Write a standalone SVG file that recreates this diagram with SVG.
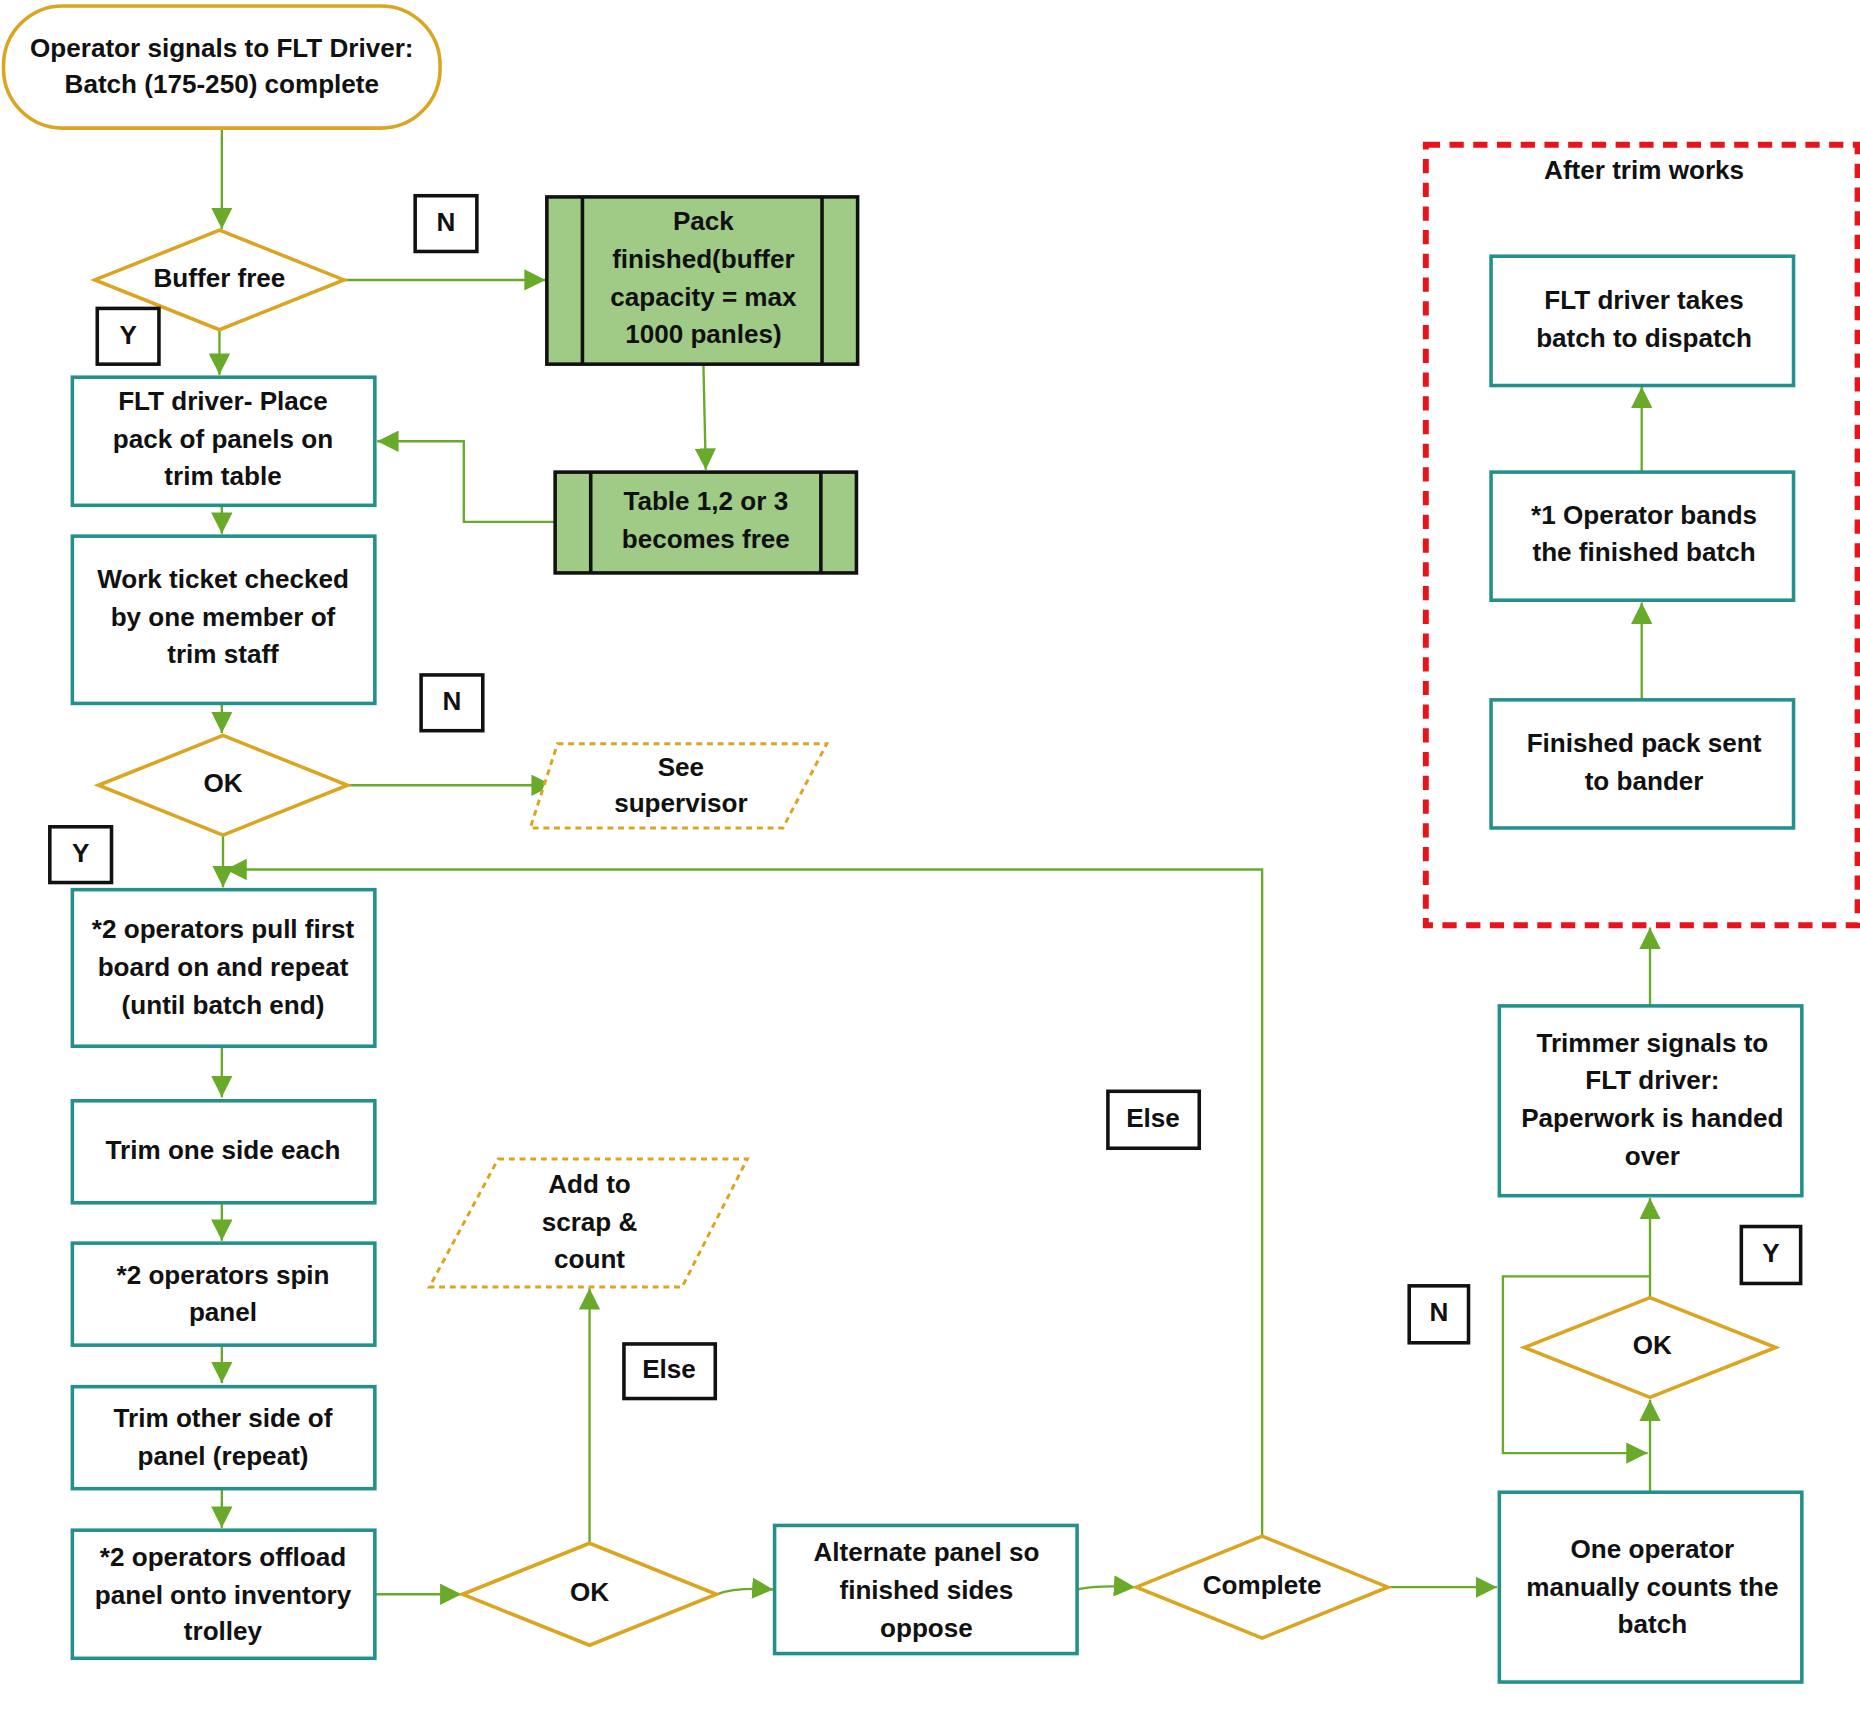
<svg xmlns="http://www.w3.org/2000/svg" width="1860" height="1713" viewBox="0 0 1860 1713">
<style>
.b{fill:#fff;stroke:#23908C;stroke-width:3}
.d{fill:#fff;stroke:#DAA520;stroke-width:3}
.p{fill:#fff;stroke:#DAA520;stroke-width:2.5;stroke-dasharray:5 4}
.g{fill:#9FCB87;stroke:#111;stroke-width:3}
.k{fill:#fff;stroke:#111;stroke-width:3}
.c{fill:none;stroke:#6AAA2A;stroke-width:2}
text{font-family:"Liberation Sans",Arial,sans-serif;font-weight:bold;font-size:22px;text-anchor:middle;fill:#111;dominant-baseline:middle}
</style>
<defs><marker id="a" markerWidth="10" markerHeight="10" refX="9" refY="5" orient="auto" markerUnits="userSpaceOnUse"><path d="M0,0L10,5L0,10z" fill="#6AAA2A" transform="scale(1)"/></marker>
<marker id="A" viewBox="0 0 10 10" markerWidth="18" markerHeight="18" refX="10" refY="5" orient="auto" markerUnits="userSpaceOnUse"><path d="M0,0L10,5L0,10z" fill="#6AAA2A"/></marker></defs>
<rect width="1860" height="1713" fill="#fff"/>
<g transform="scale(1.1862)">
<g id="connectors">
<path class="c" marker-end="url(#A)" d="M187,108V193"/>
<path class="c" marker-end="url(#A)" d="M290,236H460"/>
<path class="c" marker-end="url(#A)" d="M185,278V316"/>
<path class="c" marker-end="url(#A)" d="M593,307L595,396"/>
<path class="c" marker-end="url(#A)" d="M468,440H391V372H318"/>
<path class="c" marker-end="url(#A)" d="M187,426V450"/>
<path class="c" marker-end="url(#A)" d="M187,593V618"/>
<path class="c" marker-end="url(#A)" d="M293,662H466"/>
<path class="c" marker-end="url(#A)" d="M188,704V748"/>
<path class="c" marker-end="url(#A)" d="M1064,1295V733H190"/>
<path class="c" marker-end="url(#A)" d="M187,882V925"/>
<path class="c" marker-end="url(#A)" d="M187,1014V1046"/>
<path class="c" marker-end="url(#A)" d="M187,1134V1166"/>
<path class="c" marker-end="url(#A)" d="M187,1255V1288"/>
<path class="c" marker-end="url(#A)" d="M316,1344H389"/>
<path class="c" marker-end="url(#A)" d="M497,1301V1086"/>
<path class="c" marker-end="url(#A)" d="M604,1344Q620,1338 652,1340"/>
<path class="c" marker-end="url(#A)" d="M908,1340Q925,1336 957,1338"/>
<path class="c" marker-end="url(#A)" d="M1170,1338H1262"/>
<path class="c" marker-end="url(#A)" d="M1391,1258V1180"/>
<path class="c" marker-end="url(#A)" d="M1391,1094V1010"/>
<path class="c" marker-end="url(#A)" d="M1391,1076H1267V1225H1389"/>
<path class="c" marker-end="url(#A)" d="M1391,848V782"/>
<path class="c" marker-end="url(#A)" d="M1384,590V508"/>
<path class="c" marker-end="url(#A)" d="M1384,398V326"/>
</g>
<rect x="1202" y="122" width="364" height="658" fill="none" stroke="#E8141B" stroke-width="5" stroke-dasharray="12 8"/>
<text x="1386" y="145">After trim works</text>
<g id="start"><rect class="d" x="3" y="5" width="368" height="103" rx="50"/><text x="187" y="42">Operator signals to FLT Driver:</text><text x="187" y="73">Batch (175-250) complete</text></g>
<g id="buffer"><path class="d" d="M80,236L185,194L290,236L185,278z"/><text x="185" y="236">Buffer free</text></g>
<g id="n1"><rect class="k" x="350" y="165" width="52" height="47"/><text x="376" y="189">N</text></g>
<g id="y1"><rect class="k" x="82" y="260" width="52" height="47"/><text x="108" y="284">Y</text></g>
<g id="pack"><rect class="g" x="461" y="166" width="262" height="141"/><path class="g" d="M491,166V307M693,166V307"/><text x="593" y="188">Pack</text><text x="593" y="220">finished(buffer</text><text x="593" y="252">capacity = max</text><text x="593" y="283">1000 panles)</text></g>
<g id="table"><rect class="g" x="468" y="398" width="254" height="85"/><path class="g" d="M498,398V483M692,398V483"/><text x="595" y="424">Table 1,2 or 3</text><text x="595" y="456">becomes free</text></g>
<g id="place"><rect class="b" x="61" y="318" width="255" height="108"/><text x="188" y="340">FLT driver- Place</text><text x="188" y="372">pack of panels on</text><text x="188" y="403">trim table</text></g>
<g id="ticket"><rect class="b" x="61" y="452" width="255" height="141"/><text x="188" y="490">Work ticket checked</text><text x="188" y="522">by one member of</text><text x="188" y="553">trim staff</text></g>
<g id="n2"><rect class="k" x="355" y="569" width="52" height="47"/><text x="381" y="593">N</text></g>
<g id="ok1"><path class="d" d="M83,662L188,620L293,662L188,704z"/><text x="188" y="662">OK</text></g>
<g id="see"><path class="p" d="M470,627H697L660,698H447z"/><text x="574" y="648">See</text><text x="574" y="679">supervisor</text></g>
<g id="y2"><rect class="k" x="42" y="697" width="52" height="47"/><text x="68" y="721">Y</text></g>
<g id="pull"><rect class="b" x="61" y="750" width="255" height="132"/><text x="188" y="785">*2 operators pull first</text><text x="188" y="817">board on and repeat</text><text x="188" y="849">(until batch end)</text></g>
<g id="trim1"><rect class="b" x="61" y="928" width="255" height="86"/><text x="188" y="971">Trim one side each</text></g>
<g id="spin"><rect class="b" x="61" y="1048" width="255" height="86"/><text x="188" y="1077">*2 operators spin</text><text x="188" y="1108">panel</text></g>
<g id="trim2"><rect class="b" x="61" y="1169" width="255" height="86"/><text x="188" y="1197">Trim other side of</text><text x="188" y="1229">panel (repeat)</text></g>
<g id="offload"><rect class="b" x="61" y="1290" width="255" height="108"/><text x="188" y="1314">*2 operators offload</text><text x="188" y="1346">panel onto inventory</text><text x="188" y="1377">trolley</text></g>
<g id="ok2"><path class="d" d="M390,1344L497,1301L604,1344L497,1387z"/><text x="497" y="1344">OK</text></g>
<g id="scrap"><path class="p" d="M420,977H630L575,1085H362z"/><text x="497" y="1000">Add to</text><text x="497" y="1032">scrap &amp;</text><text x="497" y="1063">count</text></g>
<g id="else1"><rect class="k" x="526" y="1133" width="77" height="46"/><text x="564" y="1156">Else</text></g>
<g id="alt"><rect class="b" x="653" y="1286" width="255" height="108"/><text x="781" y="1310">Alternate panel so</text><text x="781" y="1342">finished sides</text><text x="781" y="1374">oppose</text></g>
<g id="complete"><path class="d" d="M958,1338L1064,1295L1170,1338L1064,1381z"/><text x="1064" y="1338">Complete</text></g>
<g id="else2"><rect class="k" x="934" y="920" width="77" height="48"/><text x="972" y="944">Else</text></g>
<g id="count"><rect class="b" x="1264" y="1258" width="255" height="160"/><text x="1393" y="1308">One operator</text><text x="1393" y="1340">manually counts the</text><text x="1393" y="1371">batch</text></g>
<g id="ok3"><path class="d" d="M1285,1136L1391,1094L1497,1136L1391,1178z"/><text x="1393" y="1136">OK</text></g>
<g id="n3"><rect class="k" x="1188" y="1084" width="50" height="48"/><text x="1213" y="1108">N</text></g>
<g id="y3"><rect class="k" x="1468" y="1034" width="50" height="48"/><text x="1493" y="1058">Y</text></g>
<g id="trimmer"><rect class="b" x="1264" y="848" width="255" height="160"/><text x="1393" y="881">Trimmer signals to</text><text x="1393" y="912">FLT driver:</text><text x="1393" y="944">Paperwork is handed</text><text x="1393" y="976">over</text></g>
<g id="sent"><rect class="b" x="1257" y="590" width="255" height="108"/><text x="1386" y="628">Finished pack sent</text><text x="1386" y="660">to bander</text></g>
<g id="bands"><rect class="b" x="1257" y="398" width="255" height="108"/><text x="1386" y="436">*1 Operator bands</text><text x="1386" y="467">the finished batch</text></g>
<g id="dispatch"><rect class="b" x="1257" y="216" width="255" height="109"/><text x="1386" y="255">FLT driver takes</text><text x="1386" y="287">batch to dispatch</text></g>
</g>
</svg>
